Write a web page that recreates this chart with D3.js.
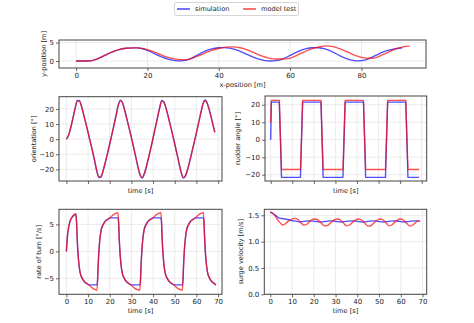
<!DOCTYPE html>
<html><head><meta charset="utf-8">
<script src="https://cdn.jsdelivr.net/npm/d3@7"></script>
<style>body{margin:0;background:#fff}svg{display:block}text{font-family:"DejaVu Sans",sans-serif}</style>
</head><body><svg id="c" width="474" height="323"></svg>
<script>
// ---------- data ----------
const seriesNames = ["simulation", "model test"];

// trajectory (x-position [m], y-position [m])
const trajSimX = [0,2,4,6,8,10,12,14,16,17,18,20,22,24,26,28,29,30,32,34,36,38,40,41.5,43,45,47,49,51,53,54.5,56,58,60,62,64,66,67,68,70,72,74,76,78,79,80,82,84,86,88,90,91.5];
const trajSimY = [0,0,0.05,0.6,1.5,2.4,3.1,3.45,3.55,3.55,3.45,2.9,2.0,1.1,0.45,0.1,0.05,0.1,0.6,1.6,2.6,3.3,3.6,3.65,3.5,3.0,2.2,1.3,0.55,0.1,0.0,0.1,0.6,1.5,2.5,3.2,3.6,3.65,3.6,3.2,2.4,1.4,0.6,0.1,0.05,0.1,0.6,1.5,2.4,3.0,3.4,3.6];
const trajTestX = [0,2,4,6,8,10,12,14,16,17,18,20,22,24,26,28,30,32,34,36,38,40,42,44,46,48,50,52,54,56,57.5,60,62,64,66,68,70,72,74,76,78,80,82,83,84,86,88,90,92,93.5];
const trajTestY = [0,0,0.05,0.6,1.5,2.4,3.1,3.45,3.55,3.55,3.5,3.1,2.4,1.6,0.9,0.5,0.35,0.6,1.3,2.1,2.9,3.4,3.75,3.85,3.6,3.0,2.2,1.4,0.8,0.55,0.55,0.8,1.6,2.5,3.3,3.8,4.1,3.9,3.3,2.5,1.6,1.0,0.75,0.75,0.9,1.7,2.6,3.4,3.9,4.05];

// orientation [deg] vs time [s]
const orientT = [0,1,2,3,4,5,6,7,8,9,10,11,12,13,14,15,16,17,18,19,20,21,22,23,24,25,26,27,28,29,30,31,32,33,34,35,36,37,38,39,40,41,42,43,44,45,46,47,48,49,50,51,52,53,54,55,56,57,58,59,60,61,62,63,64,65,66,67,68,68.5];
const orientTest = [0,2.5,7.5,13.5,20,25,25,21.5,16,10.3,4.5,-1.5,-7.5,-13.8,-20.5,-25,-24.5,-20.5,-15,-9.2,-3.2,3,9.5,16,22.5,25.3,23.5,18.5,12.8,7,1,-5.2,-11.5,-18,-23.5,-25.3,-22.5,-17.5,-11.7,-5.7,0.8,7.3,13.8,20.3,25.2,24.2,20.2,14.8,9,3,-3.2,-9.5,-16,-22,-25.3,-23.8,-19.5,-14,-8,-2,4.2,10.6,17,23,25.4,23.5,18.8,13.2,7.3,4.5];
const orientSim = [0,2.6,7.7,13.8,20.4,25.6,25.5,21.8,16.2,10.4,4.5,-1.6,-7.7,-14.1,-20.9,-25.5,-25,-20.8,-15.2,-9.3,-3.2,3.1,9.7,16.3,22.9,25.8,23.9,18.8,13,7.1,1,-5.3,-11.7,-18.3,-23.9,-25.8,-22.9,-17.8,-11.9,-5.8,0.8,7.4,14,20.6,25.7,24.6,20.5,15,9.1,3,-3.2,-9.6,-16.2,-22.4,-25.8,-24.2,-19.8,-14.2,-8.1,-2,4.3,10.8,17.3,23.4,25.9,23.9,19.1,13.4,7.4,4.6];

// rudder angle [deg] vs time [s]
const rudderT = [0,0.3,4.0,5.0,13.8,14.8,23.3,24.3,33.5,34.5,43.0,44.0,53.2,54.2,62.6,63.6,68.8];
const rudderSim = [0,21.5,21.5,-21.5,-21.5,21.5,21.5,-21.5,-21.5,21.5,21.5,-21.5,-21.5,21.5,21.5,-21.5,-21.5];
const rudderTest = [10,22.5,22.5,-17,-17,22.5,22.5,-17,-17,22.5,22.5,-17,-17,22.5,22.5,-17,-17];

// rate of turn [deg/s] vs time [s]
const rotT = [0,0.5,1,1.5,2,2.7,3.3,3.9,4.4,
  4.7,5.0,5.4,5.9,6.4,7.4,8.4,9.4,10.4,11.4,12.4,13.4,14.1,
  14.4,14.7,15.1,15.6,16.1,17.1,18.1,19.1,20.1,21.1,22.1,23.1,23.8,
  24.1,24.4,24.8,25.3,25.8,26.8,27.8,28.8,29.8,30.8,31.8,32.8,33.9,
  34.2,34.5,34.9,35.4,35.9,36.9,37.9,38.9,39.9,40.9,41.9,42.9,43.6,
  43.9,44.2,44.6,45.1,45.6,46.6,47.6,48.6,49.6,50.6,51.6,52.6,53.5,
  53.8,54.1,54.5,55.0,55.5,56.5,57.5,58.5,59.5,60.5,61.5,62.5,63.2,
  63.5,63.8,64.2,64.7,65.2,66.2,67.2,68.2,69.0];
const rotTest = [0,2.8,4.3,5.3,5.9,6.4,6.7,6.9,7.0,
  5.5,2.4,-0.5,-2.7,-4.0,-5.0,-5.6,-5.9,-6.2,-6.6,-6.9,-7.1,-7.2,
  -5.5,-2.4,0.5,2.7,4.0,5.0,5.6,5.9,6.2,6.6,6.9,7.1,7.2,
  5.6,2.4,-0.5,-2.7,-4.0,-5.0,-5.6,-5.9,-6.2,-6.6,-6.9,-7.1,-7.2,
  -5.5,-2.4,0.5,2.7,4.0,5.0,5.6,5.9,6.2,6.6,6.9,7.1,7.2,
  5.6,2.4,-0.5,-2.7,-4.0,-5.0,-5.6,-5.9,-6.2,-6.6,-6.9,-7.1,-7.2,
  -5.5,-2.4,0.5,2.7,4.0,5.0,5.6,5.9,6.2,6.6,6.9,7.1,7.2,
  5.6,2.4,-0.5,-2.7,-4.0,-5.0,-5.6,-5.9,-6.3];
const rotSim = [0,2.9,4.4,5.3,5.9,6.3,6.6,6.8,6.9,
  5.4,2.3,-0.6,-2.8,-4.1,-5.1,-5.7,-6.0,-6.2,-6.2,-6.2,-6.2,-6.2,
  -5.2,-2.2,0.6,2.8,4.1,5.1,5.7,6.0,6.2,6.2,6.2,6.2,6.2,
  5.2,2.2,-0.6,-2.8,-4.1,-5.1,-5.7,-6.0,-6.2,-6.2,-6.2,-6.2,-6.2,
  -5.2,-2.2,0.6,2.8,4.1,5.1,5.7,6.0,6.2,6.2,6.2,6.2,6.2,
  5.2,2.2,-0.6,-2.8,-4.1,-5.1,-5.7,-6.0,-6.2,-6.2,-6.2,-6.2,-6.2,
  -5.2,-2.2,0.6,2.8,4.1,5.1,5.7,6.0,6.2,6.2,6.2,6.2,6.2,
  5.2,2.2,-0.6,-2.8,-4.1,-5.1,-5.7,-6.0,-6.2];

// surge velocity [m/s] vs time [s]
const surgeSimT = [0,1,2,3,4,5,6,7,8,9,10,12,13,15.5,18,20.5,23,25.5,27.5,30,32.5,35,37.5,40,42.5,45,47,49.5,52,54.5,57,59.5,61.5,64,66.5,69];
const surgeSim = [1.56,1.54,1.51,1.475,1.45,1.44,1.435,1.43,1.42,1.41,1.40,1.39,1.375,1.385,1.395,1.385,1.372,1.385,1.395,1.385,1.372,1.385,1.395,1.385,1.372,1.385,1.395,1.385,1.372,1.385,1.395,1.385,1.372,1.385,1.395,1.39];
const surgeTestT = [0,1,2,3,4,5,5.7,6.7,8,9.5,11.2,12.8,14,15.4,16.8,18.3,19.9,21.5,23,25,26.5,28,30.7,32.3,33.7,35.1,36.6,38.2,40.4,42,43.5,45,46.5,48,50.4,52,53.2,54.5,56,57.5,59.6,61.2,62.7,64.2,65.7,67,68.2];
const surgeTest = [1.56,1.54,1.50,1.44,1.38,1.34,1.316,1.33,1.38,1.42,1.443,1.42,1.36,1.315,1.33,1.39,1.43,1.42,1.37,1.30,1.31,1.37,1.43,1.41,1.35,1.30,1.32,1.38,1.43,1.41,1.35,1.295,1.31,1.37,1.43,1.41,1.36,1.30,1.32,1.38,1.43,1.41,1.35,1.295,1.32,1.37,1.405];

// ticks
const trajXTicks = [0,20,40,60,80];
const trajYTicks = [0,5];
const timeTicks = [0,10,20,30,40,50,60,70];
const orientTicks = [-20,-10,0,10,20];
const rudderTicks = [-20,-10,0,10,20];
const rotTicks = [-5,0,5];
const surgeTicks = [0,0.5,1.0,1.5];

// ---------- drawing ----------
const svg = d3.select("#c");
const COL = {sim: "#0a0aff", test: "#ff0a0a"};
const FS = 6.6;   // axis labels
const TFS = 7;    // tick labels
const minus = s => String(s).replace("-", "\u2212");

function zipPts(xs, ys){ return xs.map((v,i)=>[v, ys[i]]); }

function panel(o){
  const x = d3.scaleLinear().domain(o.xd).range([o.l, o.r]);
  const y = d3.scaleLinear().domain(o.yd).range([o.b, o.t]);
  const g = svg.append("g");
  // grid
  g.selectAll(null).data(o.xt).enter().append("line")
    .attr("x1", d=>x(d)).attr("x2", d=>x(d)).attr("y1", o.t).attr("y2", o.b)
    .attr("stroke", "#e3e3e3").attr("stroke-width", 0.7);
  g.selectAll(null).data(o.yt).enter().append("line")
    .attr("y1", d=>y(d)).attr("y2", d=>y(d)).attr("x1", o.l).attr("x2", o.r)
    .attr("stroke", "#e3e3e3").attr("stroke-width", 0.7);
  // series
  const cid = "clip" + Math.round(o.l) + "_" + Math.round(o.t);
  svg.append("clipPath").attr("id", cid).append("rect")
    .attr("x", o.l).attr("y", o.t).attr("width", o.r-o.l).attr("height", o.b-o.t);
  const line = d3.line().x(d=>x(d[0])).y(d=>y(d[1])).curve(o.curve || d3.curveMonotoneX);
  o.series.forEach(s=>{
    g.append("path").attr("d", line(s.pts)).attr("fill","none")
      .attr("stroke", s.c).attr("stroke-width", 1.35).attr("stroke-opacity", 0.72)
      .attr("stroke-linejoin","round").attr("clip-path", "url(#"+cid+")");
  });
  // frame
  g.append("rect").attr("x", o.l).attr("y", o.t).attr("width", o.r-o.l).attr("height", o.b-o.t)
    .attr("fill","none").attr("stroke","#444").attr("stroke-width",1);
  // axes
  const ax = d3.axisBottom(x).tickValues(o.xt).tickSize(3).tickPadding(2)
    .tickFormat(o.showX ? (d=>minus(d)) : (()=>""));
  const gx = g.append("g").attr("transform", `translate(0,${o.b})`).call(ax);
  const ay = d3.axisLeft(y).tickValues(o.yt).tickSize(3).tickPadding(2)
    .tickFormat(d=>minus(o.yfmt ? o.yfmt(d) : d));
  const gy = g.append("g").attr("transform", `translate(${o.l},0)`).call(ay);
  [gx, gy].forEach(a=>{
    a.select(".domain").remove();
    a.selectAll(".tick line").attr("stroke","#444").attr("stroke-width",0.8);
    a.selectAll(".tick text").attr("fill","#222").style("font-size", TFS+"px").style("font-family","DejaVu Sans");
  });
  // labels
  if (o.xlabel) g.append("text").attr("x", (o.l+o.r)/2).attr("y", o.xly)
    .attr("text-anchor","middle").attr("fill","#222").style("font-size", FS+"px").text(o.xlabel);
  g.append("text").attr("transform", `translate(${o.ylx},${(o.t+o.b)/2}) rotate(-90)`)
    .attr("text-anchor","middle").attr("fill","#222").style("font-size", FS+"px").text(o.ylabel);
}

// top: trajectory
panel({l:59, r:426, t:40, b:68, xd:[-4.8,98.1], yd:[-1.9,5.7], xt:trajXTicks, yt:trajYTicks, showX:true,
  xlabel:"x-position [m]", xly:86.5, ylabel:"y-position [m]", ylx:46,
  series:[{c:COL.sim, pts:zipPts(trajSimX, trajSimY)}, {c:COL.test, pts:zipPts(trajTestX, trajTestY)}]});

// orientation
panel({l:59, r:222, t:96.7, b:181, xd:[-3.4,71.8], yd:[-27.7,28.1], xt:timeTicks, yt:orientTicks, showX:false,
  xlabel:"time [s]", xly:193, ylabel:"orientation [°]", ylx:36,
  series:[{c:COL.sim, pts:zipPts(orientT, orientSim)}, {c:COL.test, pts:zipPts(orientT, orientTest)}]});

// rudder
panel({l:265, r:426.7, t:96, b:181, xd:[-2.64,72.3], yd:[-23.6,25], xt:timeTicks, yt:rudderTicks, showX:false,
  xlabel:"time [s]", xly:193, ylabel:"rudder angle [°]", ylx:240, curve:d3.curveLinear,
  series:[{c:COL.sim, pts:zipPts(rudderT, rudderSim)}, {c:COL.test, pts:zipPts(rudderT, rudderTest)}]});

// rate of turn
panel({l:59, r:222, t:209.3, b:294.3, xd:[-3.4,71.8], yd:[-7.96,7.8], xt:timeTicks, yt:rotTicks, showX:true,
  xlabel:"time [s]", xly:313, ylabel:"rate of turn [°/s]", ylx:41,
  series:[{c:COL.sim, pts:zipPts(rotT, rotSim)}, {c:COL.test, pts:zipPts(rotT, rotTest)}]});

// surge velocity
panel({l:264.3, r:426.7, t:209.3, b:294.3, xd:[-2.75,71.9], yd:[0,1.614], xt:timeTicks, yt:surgeTicks, showX:true,
  yfmt:d=>d.toFixed(1),
  xlabel:"time [s]", xly:313, ylabel:"surge velocity [m/s]", ylx:243,
  series:[{c:COL.sim, pts:zipPts(surgeSimT, surgeSim)}, {c:COL.test, pts:zipPts(surgeTestT, surgeTest)}]});

// legend
const lg = svg.append("g");
lg.append("rect").attr("x",174.5).attr("y",2.5).attr("width",124).attr("height",13)
  .attr("fill","#fff").attr("stroke","#ccc").attr("stroke-width",0.8).attr("rx",1.5);
const legItems = [{name:seriesNames[0], c:COL.sim, x:177}, {name:seriesNames[1], c:COL.test, x:243}];
legItems.forEach(it=>{
  lg.append("line").attr("x1",it.x).attr("x2",it.x+13).attr("y1",9).attr("y2",9)
    .attr("stroke",it.c).attr("stroke-width",1.35).attr("stroke-opacity",0.85);
  lg.append("text").attr("x",it.x+18).attr("y",11.3).attr("fill","#222").style("font-size",FS+"px").text(it.name);
});
</script></body></html>
